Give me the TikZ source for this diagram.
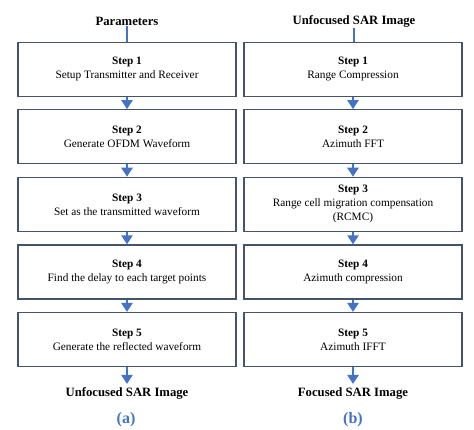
\documentclass[tikz,border=0pt]{standalone}
\usepackage{fontspec}
\setmainfont{Liberation Serif}
\usetikzlibrary{arrows.meta}
\definecolor{boxgray}{HTML}{44546A}
\definecolor{arrblue}{HTML}{4472C4}
\tikzset{
  stepbox/.style={rectangle, draw=boxgray, line width=1.3pt, minimum width=218pt,
    minimum height=54pt, align=center, font=\fontsize{11.3}{14}\selectfont},
  lbl/.style={font=\fontsize{12.7}{15}\selectfont\bfseries, inner sep=1pt},
  sub/.style={font=\fontsize{16}{19}\selectfont\bfseries, text=arrblue},
  arr/.style={draw=arrblue, line width=2.6pt, -{Triangle[width=11pt,length=9pt]}},
  stem/.style={draw=arrblue, line width=2.6pt}
}
\begin{document}
\begin{tikzpicture}[x=1pt,y=-1pt]
\useasboundingbox (0,0) rectangle (474,430);
% left column
\node[lbl] (pa) at (127,21) {Parameters};
\node[stepbox] (a1) at (127,69.2) {\textbf{Step 1}\\Setup Transmitter and Receiver};
\node[stepbox] (a2) at (127,136.8) {\textbf{Step 2}\\Generate OFDM Waveform};
\node[stepbox] (a3) at (127,204.4) {\textbf{Step 3}\\Set as the transmitted waveform};
\node[stepbox] (a4) at (127,272) {\textbf{Step 4}\\Find the delay to each target points};
\node[stepbox] (a5) at (127,339.6) {\textbf{Step 5}\\Generate the reflected waveform};
\node[lbl] (ao) at (127,393) {Unfocused SAR Image};
\node[sub] (sa) at (126,420) {(a)};
\draw[stem] (pa.south) -- (a1.north);
\draw[arr] (a1.south) -- (a2.north);
\draw[arr] (a2.south) -- (a3.north);
\draw[arr] (a3.south) -- (a4.north);
\draw[arr] (a4.south) -- (a5.north);
\draw[arr, shorten >=2pt] (a5.south) -- (ao.north);
% right column
\node[lbl] (pb) at (354,21) {Unfocused SAR Image};
\node[stepbox] (b1) at (353,69.2) {\textbf{Step 1}\\Range Compression};
\node[stepbox] (b2) at (353,136.8) {\textbf{Step 2}\\Azimuth FFT};
\node[stepbox] (b3) at (353,204.4) {\textbf{Step 3}\\Range cell migration compensation\\(RCMC)};
\node[stepbox] (b4) at (353,272) {\textbf{Step 4}\\Azimuth compression};
\node[stepbox] (b5) at (353,339.6) {\textbf{Step 5}\\Azimuth IFFT};
\node[lbl] (bo) at (353,393) {Focused SAR Image};
\node[sub] (sb) at (353,420) {(b)};
\draw[stem] (pb.south) -- (pb.south |- b1.north);
\draw[arr] (b1.south) -- (b2.north);
\draw[arr] (b2.south) -- (b3.north);
\draw[arr] (b3.south) -- (b4.north);
\draw[arr] (b4.south) -- (b5.north);
\draw[arr, shorten >=2pt] (b5.south) -- (bo.north);
\end{tikzpicture}
\end{document}
